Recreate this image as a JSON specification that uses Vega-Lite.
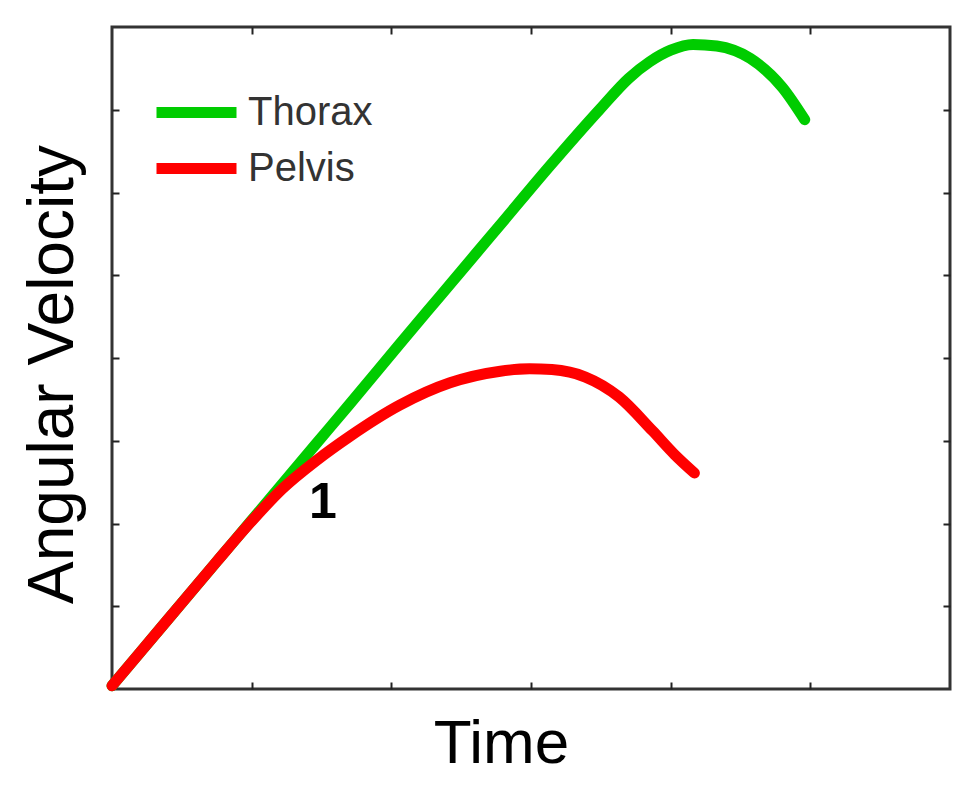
{
  "$schema": "https://vega.github.io/schema/vega-lite/v6.json",
  "autosize": "none",
  "width": 838,
  "height": 662,
  "padding": {"left": 112, "top": 27, "right": 21, "bottom": 97},
  "background": "white",
  "datasets": {
    "curves": [
      {"segment": "Thorax", "t": 0.0, "v": 0.04},
      {"segment": "Thorax", "t": 0.39, "v": 0.82},
      {"segment": "Thorax", "t": 0.75, "v": 1.54},
      {"segment": "Thorax", "t": 0.99, "v": 2.02},
      {"segment": "Thorax", "t": 1.22, "v": 2.48},
      {"segment": "Thorax", "t": 1.47, "v": 2.98},
      {"segment": "Thorax", "t": 1.70, "v": 3.44},
      {"segment": "Thorax", "t": 2.06, "v": 4.17},
      {"segment": "Thorax", "t": 2.35, "v": 4.75},
      {"segment": "Thorax", "t": 2.61, "v": 5.27},
      {"segment": "Thorax", "t": 2.80, "v": 5.65},
      {"segment": "Thorax", "t": 3.14, "v": 6.33},
      {"segment": "Thorax", "t": 3.49, "v": 7.00},
      {"segment": "Thorax", "t": 3.70, "v": 7.38},
      {"segment": "Thorax", "t": 3.85, "v": 7.58},
      {"segment": "Thorax", "t": 4.00, "v": 7.72},
      {"segment": "Thorax", "t": 4.16, "v": 7.79},
      {"segment": "Thorax", "t": 4.33, "v": 7.77},
      {"segment": "Thorax", "t": 4.57, "v": 7.62},
      {"segment": "Thorax", "t": 4.80, "v": 7.27},
      {"segment": "Thorax", "t": 4.96, "v": 6.88},
      {"segment": "Pelvis", "t": 0.0, "v": 0.04},
      {"segment": "Pelvis", "t": 0.39, "v": 0.82},
      {"segment": "Pelvis", "t": 0.75, "v": 1.54},
      {"segment": "Pelvis", "t": 0.99, "v": 2.01},
      {"segment": "Pelvis", "t": 1.22, "v": 2.42},
      {"segment": "Pelvis", "t": 1.47, "v": 2.77},
      {"segment": "Pelvis", "t": 1.70, "v": 3.05},
      {"segment": "Pelvis", "t": 2.06, "v": 3.43},
      {"segment": "Pelvis", "t": 2.42, "v": 3.70},
      {"segment": "Pelvis", "t": 2.78, "v": 3.84},
      {"segment": "Pelvis", "t": 2.99, "v": 3.87},
      {"segment": "Pelvis", "t": 3.15, "v": 3.86},
      {"segment": "Pelvis", "t": 3.39, "v": 3.77},
      {"segment": "Pelvis", "t": 3.63, "v": 3.53},
      {"segment": "Pelvis", "t": 3.87, "v": 3.12},
      {"segment": "Pelvis", "t": 4.03, "v": 2.83},
      {"segment": "Pelvis", "t": 4.17, "v": 2.61}
    ],
    "notes": [
      {"t": 1.51, "v": 2.25, "label": "1"}
    ]
  },
  "layer": [
    {
      "data": {"name": "curves"},
      "mark": {"type": "line", "strokeWidth": 11, "interpolate": "monotone", "strokeCap": "round"},
      "encoding": {
        "x": {
          "field": "t",
          "type": "quantitative",
          "scale": {"domain": [0, 6], "nice": false},
          "axis": {
            "orient": "bottom",
            "title": "Time",
            "titleX": 389,
            "titleY": 73,
            "titleBaseline": "alphabetic",
            "titleFontSize": 62,
            "values": [1, 2, 3, 4, 5]
          }
        },
        "y": {
          "field": "v",
          "type": "quantitative",
          "scale": {"domain": [0, 8], "nice": false},
          "axis": {
            "orient": "left",
            "title": "Angular Velocity",
            "titleX": -40,
            "titleY": 347,
            "titleAngle": -90,
            "titleAlign": "center",
            "titleBaseline": "alphabetic",
            "titleFontSize": 64,
            "values": [1, 2, 3, 4, 5, 6, 7]
          }
        },
        "color": {
          "field": "segment",
          "type": "nominal",
          "scale": {"domain": ["Thorax", "Pelvis"], "range": ["#00cc00", "#ff0000"]},
          "legend": {
            "orient": "none",
            "legendX": 59,
            "legendY": 60,
            "title": null,
            "symbolType": "M-2,0H2",
            "symbolSize": 1600,
            "symbolStrokeWidth": 11,
            "labelFontSize": 40,
            "labelFont": "Liberation Sans",
            "labelColor": "#333333",
            "labelOffset": 26,
            "labelLimit": 400,
            "rowPadding": 8
          }
        }
      }
    },
    {
      "data": {"name": "notes"},
      "mark": {"type": "text", "fontSize": 50, "fontWeight": "bold", "font": "Liberation Sans", "color": "black", "baseline": "middle", "align": "center"},
      "encoding": {
        "x": {
          "field": "t",
          "type": "quantitative",
          "axis": {"orient": "top", "title": null, "values": [1, 2, 3, 4, 5]}
        },
        "y": {
          "field": "v",
          "type": "quantitative",
          "axis": {"orient": "right", "title": null, "values": [1, 2, 3, 4, 5, 6, 7]}
        },
        "text": {"field": "label"}
      }
    }
  ],
  "resolve": {"axis": {"x": "independent", "y": "independent"}},
  "config": {
    "view": {"stroke": "#333333", "strokeWidth": 3},
    "axis": {
      "domain": false,
      "grid": false,
      "labels": false,
      "ticks": true,
      "tickSize": -7,
      "tickWidth": 2,
      "tickColor": "#222222",
      "titleFont": "Liberation Sans",
      "titleFontWeight": "normal",
      "titleColor": "black"
    }
  }
}
